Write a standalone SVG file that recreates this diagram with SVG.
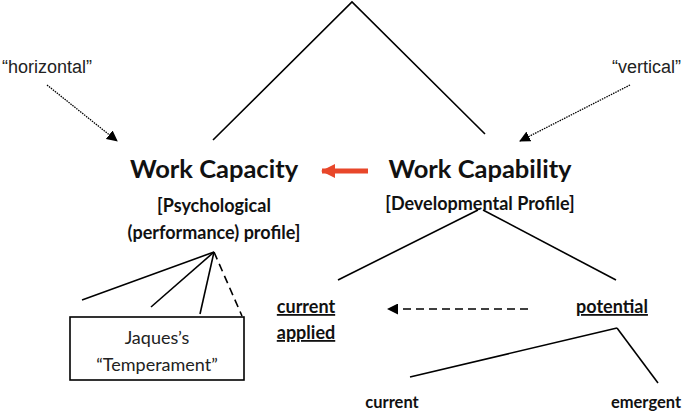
<svg xmlns="http://www.w3.org/2000/svg" width="685" height="413" viewBox="0 0 685 413">
<defs>
<style>
.ln{stroke:#000;stroke-width:1.6;fill:none}
.dot{stroke:#000;stroke-width:1.3;stroke-dasharray:1.5 1;fill:none}
.dash{stroke:#000;stroke-width:1.6;stroke-dasharray:8 5;fill:none}
.ar{font-family:"Liberation Sans",Arial,sans-serif;font-size:18px;fill:#222}
.ti{font-family:Lato,"Open Sans",sans-serif;font-weight:bold;font-size:25.5px;fill:#111}
.sb{font-family:Lato,"Open Sans",sans-serif;font-weight:bold;font-size:18px;fill:#111}
.sm{font-family:Lato,"Open Sans",sans-serif;font-weight:bold;font-size:16.5px;fill:#111}
.nr{font-family:Lato,"Open Sans",sans-serif;font-size:18px;fill:#222}
</style>
<marker id="tri" markerWidth="11" markerHeight="11" refX="10" refY="5.5" orient="auto" markerUnits="userSpaceOnUse">
<path d="M0,0 L11,5.5 L0,11 Z" fill="#000"/>
</marker>
<marker id="red" markerWidth="14" markerHeight="14" refX="13" refY="7" orient="auto" markerUnits="userSpaceOnUse">
<path d="M0,0 L14,7 L0,14 Z" fill="#e8472a"/>
</marker>
</defs>
<g id="connectors">
<path class="ln" d="M213,140 L352,2 L485,134"/>
<line class="dot" x1="47" y1="85" x2="117" y2="141" marker-end="url(#tri)"/>
<line class="dot" x1="630" y1="85" x2="520" y2="141" marker-end="url(#tri)"/>
<line x1="368" y1="171" x2="322" y2="171" stroke="#e8472a" stroke-width="5" marker-end="url(#red)"/>
<line class="ln" x1="214" y1="252" x2="82" y2="300"/>
<line class="ln" x1="214" y1="252" x2="151" y2="307"/>
<line class="ln" x1="214" y1="252" x2="200" y2="314"/>
<line class="dash" x1="214" y1="252" x2="242" y2="316"/>
<line class="ln" x1="478" y1="210" x2="338" y2="280"/>
<line class="ln" x1="483" y1="210" x2="616" y2="280"/>
<line class="dash" x1="528" y1="309" x2="388" y2="309" marker-end="url(#tri)"/>
<line class="ln" x1="617" y1="328" x2="410" y2="377"/>
<line class="ln" x1="617" y1="328" x2="658" y2="383"/>
</g>
<g id="horizontal"><text class="ar" x="2" y="73">“horizontal”</text></g>
<g id="vertical"><text class="ar" x="612" y="73">“vertical”</text></g>
<g id="work-capacity">
<text class="ti" x="214" y="178" text-anchor="middle">Work Capacity</text>
<text class="sb" x="214" y="212" text-anchor="middle">[Psychological</text>
<text class="sb" x="214" y="239" text-anchor="middle">(performance) profile]</text>
</g>
<g id="work-capability">
<text class="ti" x="480" y="178" text-anchor="middle">Work Capability</text>
<text class="sb" x="480" y="210" text-anchor="middle">[Developmental Profile]</text>
</g>
<g id="temperament">
<rect x="70" y="317" width="174" height="63" fill="#fff" stroke="#000" stroke-width="1.6"/>
<text class="nr" x="157" y="344" text-anchor="middle">Jaques’s</text>
<text class="nr" x="157" y="371" text-anchor="middle">“Temperament”</text>
</g>
<g id="current-applied">
<text class="sb" x="306" y="313" text-anchor="middle" text-decoration="underline">current</text>
<text class="sb" x="306" y="339" text-anchor="middle" text-decoration="underline">applied</text>
</g>
<g id="potential"><text class="sb" x="612" y="313" text-anchor="middle" text-decoration="underline">potential</text></g>
<g id="current"><text class="sm" x="392" y="408" text-anchor="middle">current</text></g>
<g id="emergent"><text class="sm" x="646" y="408" text-anchor="middle">emergent</text></g>
</svg>
